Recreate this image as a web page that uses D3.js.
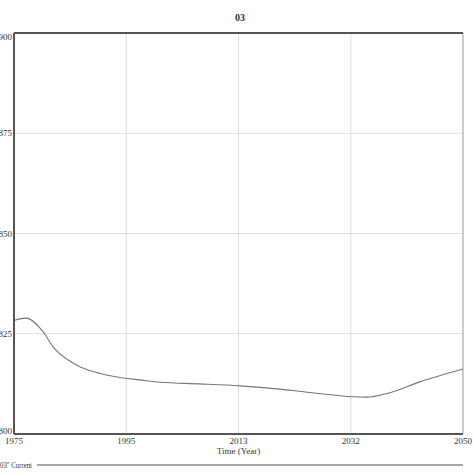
<!DOCTYPE html>
<html><head><meta charset="utf-8">
<script src="https://cdn.jsdelivr.net/npm/d3@7"></script>
<style>body{margin:0;background:#fff}svg{display:block}text{font-family:"Liberation Serif","DejaVu Serif",serif;fill:#333}</style>
</head><body><svg id="c" width="474" height="474"></svg>
<script>
const years = [1975, 1977, 1980, 1981.5, 1984, 1986, 1989.4, 1992.7, 1996, 1999.4, 2006, 2012.8, 2019.4, 2026, 2031.5, 2034, 2037.3, 2042.8, 2050];
const values = [0.8283, 0.8289, 0.8252, 0.8218, 0.8185, 0.8168, 0.8151, 0.8141, 0.8135, 0.8129, 0.8125, 0.8120, 0.8112, 0.8101, 0.8093, 0.8092, 0.8101, 0.8130, 0.8162];
const xTickYears = [1975, 1993.75, 2012.5, 2031.25, 2050];
const xTickLabels = ["1975", "1995", "2013", "2032", "2050"];
const yTicks = [0.8, 0.825, 0.85, 0.875, 0.9];
const yTickLabels = ["0.800", "0.825", "0.850", "0.875", "0.900"];
const title = "03";
const xTitle = "Time (Year)";
const legendLabel = "03\" Current";

const svg = d3.select("#c");
const L = 14, R = 463, T = 33, B = 434;
const x = d3.scaleLinear().domain([1975, 2050]).range([L, R]);
const y = d3.scaleLinear().domain([0.8, 0.9]).range([B, T]);

// grid
svg.append("g").selectAll("line").data(xTickYears.slice(1, -1)).join("line")
  .attr("x1", d => x(d)).attr("x2", d => x(d)).attr("y1", T).attr("y2", B)
  .attr("stroke", "#dcdcdc").attr("stroke-width", 1);
svg.append("g").selectAll("line").data(yTicks.slice(1, -1)).join("line")
  .attr("x1", L).attr("x2", R).attr("y1", d => y(d)).attr("y2", d => y(d))
  .attr("stroke", "#dcdcdc").attr("stroke-width", 1);

// right border
svg.append("line").attr("x1", R).attr("x2", R).attr("y1", T).attr("y2", B).attr("stroke", "#999").attr("stroke-width", 1);

// data line
const line = d3.line().x((d, i) => x(years[i])).y(d => y(d)).curve(d3.curveMonotoneX);
svg.append("path").attr("d", line(values)).attr("fill", "none").attr("stroke", "#777").attr("stroke-width", 1.1);

// frame
svg.append("line").attr("x1", L).attr("x2", R).attr("y1", T).attr("y2", T).attr("stroke", "#555").attr("stroke-width", 2);
svg.append("line").attr("x1", L).attr("x2", R).attr("y1", B).attr("y2", B).attr("stroke", "#555").attr("stroke-width", 2);
svg.append("line").attr("x1", L).attr("x2", L).attr("y1", T).attr("y2", B).attr("stroke", "#555").attr("stroke-width", 2);

// axis labels
svg.append("g").selectAll("text").data(xTickYears).join("text")
  .attr("x", d => x(d)).attr("y", 444).attr("text-anchor", "middle")
  .attr("font-size", 9).text((d, i) => xTickLabels[i]);
svg.append("g").selectAll("text").data(yTicks).join("text")
  .attr("x", 12).attr("y", (d, i) => y(d) + (i === 0 ? 0 : i === yTicks.length - 1 ? 7 : 3)).attr("text-anchor", "end")
  .attr("font-size", 9).text((d, i) => yTickLabels[i]);

svg.append("text").attr("x", (L + R) / 2).attr("y", 454).attr("text-anchor", "middle").attr("font-size", 9).text(xTitle);
svg.append("text").attr("x", 240).attr("y", 21).attr("text-anchor", "middle").attr("font-size", 10).attr("font-weight", "bold").text(title);

// legend
svg.append("text").attr("x", 0).attr("y", 468).attr("font-size", 8.5)
  .attr("textLength", 32).attr("lengthAdjust", "spacingAndGlyphs").text(legendLabel);
svg.append("line").attr("x1", 37).attr("x2", R).attr("y1", 465).attr("y2", 465).attr("stroke", "#888").attr("stroke-width", 1.5);
</script></body></html>
